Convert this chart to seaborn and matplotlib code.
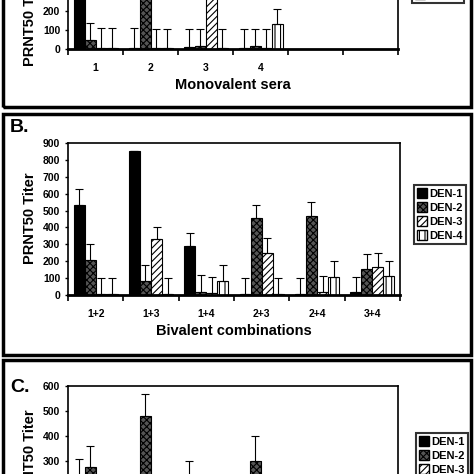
import pandas as pd
import matplotlib
matplotlib.use("Agg")
import matplotlib.pyplot as plt
import seaborn as sns
from matplotlib.patches import Rectangle, Patch

# ---- data ----
serotypes = ["DEN-1", "DEN-2", "DEN-3", "DEN-4"]

mono_groups = ["1", "2", "3", "4"]
mono_vals = {"DEN-1": [620, 3, 8, 3], "DEN-2": [45, 520, 15, 15],
             "DEN-3": [3, 3, 420, 3], "DEN-4": [3, 3, 3, 130]}
mono_err = {"DEN-1": [60, 105, 95, 100], "DEN-2": [90, 80, 90, 90],
            "DEN-3": [105, 100, 80, 100], "DEN-4": [105, 100, 100, 80]}

bi_groups = ["1+2", "1+3", "1+4", "2+3", "2+4", "3+4"]
bi_vals = {"DEN-1": [530, 850, 290, 3, 3, 20], "DEN-2": [210, 85, 15, 455, 470, 155],
           "DEN-3": [3, 330, 10, 250, 20, 165], "DEN-4": [3, 5, 85, 3, 105, 110]}
bi_err = {"DEN-1": [95, 0, 75, 100, 100, 85], "DEN-2": [90, 90, 105, 75, 80, 85],
          "DEN-3": [100, 75, 95, 90, 95, 85], "DEN-4": [100, 95, 95, 100, 95, 90]}

tri_groups = ["1+2+3", "1+2+4", "1+3+4", "2+3+4"]
tri_vals = {"DEN-1": [200, 40, 190, 20], "DEN-2": [275, 480, 60, 300],
            "DEN-3": [120, 30, 90, 150], "DEN-4": [40, 90, 110, 80]}
tri_err = {"DEN-1": [110, 90, 110, 90], "DEN-2": [85, 90, 90, 100],
           "DEN-3": [90, 90, 90, 90], "DEN-4": [90, 90, 90, 90]}

colors = {"DEN-1": "black", "DEN-2": "#555555", "DEN-3": "white", "DEN-4": "white"}
hatches = {"DEN-1": "", "DEN-2": "xxxxx", "DEN-3": "/////", "DEN-4": "|||"}

plt.rcParams["font.family"] = ["Liberation Sans", "DejaVu Sans"]
plt.rcParams["font.weight"] = "bold"
plt.rcParams["hatch.linewidth"] = 0.8

fig = plt.figure(figsize=(4.74, 4.74), dpi=100)
H = 474.0


def fx(x):
    return x / H


def fy(y):
    return 1 - y / H


def panel(rect, groups, vals, errs, ymax, ystep, xlabel, letter, leg_xy, ylabel_y):
    ax = fig.add_axes(rect)
    df = pd.DataFrame([(g, s, vals[s][i]) for s in serotypes for i, g in enumerate(groups)],
                      columns=["group", "sero", "titer"])
    order = groups + [" " * k for k in range(1, 7 - len(groups))]
    sns.barplot(data=df, x="group", y="titer", hue="sero", order=order, hue_order=serotypes,
                palette=colors, edgecolor="black", linewidth=0.8, width=0.8, ax=ax,
                legend=False)
    bar_conts = list(ax.containers)
    for cont, s in zip(bar_conts, serotypes):
        for bar, e in zip(cont, errs[s]):
            bar.set_hatch(hatches[s])
            xc = bar.get_x() + bar.get_width() / 2
            ax.errorbar(xc, bar.get_height(), yerr=[[0], [e]], fmt="none",
                        ecolor="black", elinewidth=0.8, capsize=3, capthick=0.8)
    ax.set_xlim(-0.5, 5.5)
    ax.set_ylim(0, ymax)
    ax.set_yticks(range(0, ymax + 1, ystep))
    ax.tick_params(axis="y", labelsize=7.5, length=2, width=1)
    ax.set_xticks([i - 0.5 for i in range(7)], [""] * 7)
    ax.tick_params(axis="x", length=4, width=1.2)
    ax.set_xticks(range(len(groups)), groups, minor=True)
    ax.tick_params(axis="x", which="minor", length=0, labelsize=7.5, pad=10)
    for sp in ax.spines.values():
        sp.set_linewidth(1.2)
    ax.spines["bottom"].set_linewidth(2)
    ax.set_xlabel(xlabel, fontsize=10.5, fontweight="bold", labelpad=4)
    ax.set_ylabel("")
    fig.text(fx(30), fy(ylabel_y), "PRNT50 Titer", rotation=90, fontsize=10.5,
             fontweight="bold", ha="center", va="center")
    handles = [Patch(facecolor=colors[s], edgecolor="black", hatch=hatches[s], label=s)
               for s in serotypes]
    leg = ax.legend(handles=handles, loc="upper left", bbox_to_anchor=leg_xy,
                    bbox_transform=fig.transFigure, fontsize=8, frameon=True, fancybox=False,
                    edgecolor="black", handlelength=0.9, handleheight=1.0, handletextpad=0.2,
                    labelspacing=0.3, borderpad=0.3)
    leg.get_frame().set_linewidth(1.5)
    if letter:
        fig.text(fx(10), fy(letter[1]), letter[0], fontsize=14, fontweight="bold",
                 ha="left", va="center")
    return ax


# A: 0 at y=49, 19 px per 100
panel([fx(68), fy(49), fx(330), 171 / H], mono_groups, mono_vals, mono_err, 900, 100,
      "Monovalent sera", None, (fx(406), fy(-62)), 20)
# B: 0 at y=295, 900 at y=143
panel([fx(68), fy(295), fx(332), 152 / H], bi_groups, bi_vals, bi_err, 900, 100,
      "Bivalent combinations", ("B.", 127), (fx(408), fy(179)), 218)
# C: 600 at y=386, 25 px per 100
panel([fx(68), fy(536), fx(330), 150 / H], tri_groups, tri_vals, tri_err, 600, 100,
      "Trivalent combinations", ("C.", 387), (fx(410), fy(427)), 455)

# panel frames
for y0, y1 in [(-20, 107), (114, 355), (360, 500)]:
    fig.add_artist(Rectangle((fx(3), fy(y1)), fx(468), (y1 - y0) / H, transform=fig.transFigure,
                             fill=False, edgecolor="black", linewidth=2.5))

fig.savefig("out.png", dpi=100, facecolor="white")
